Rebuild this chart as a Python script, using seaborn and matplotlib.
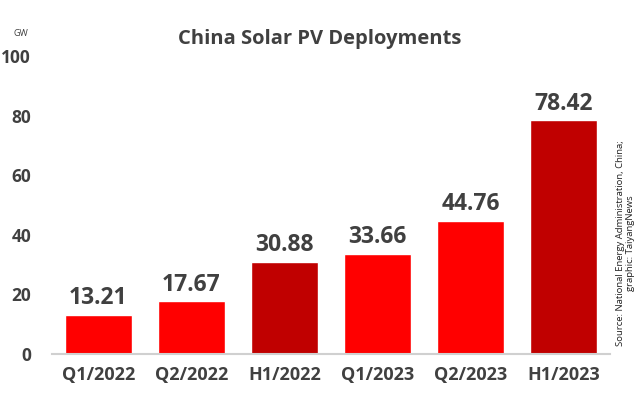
import matplotlib
matplotlib.use("Agg")
import matplotlib.pyplot as plt
import seaborn as sns
import pandas as pd

categories = ["Q1/2022", "Q2/2022", "H1/2022", "Q1/2023", "Q2/2023", "H1/2023"]
values = [13.21, 17.67, 30.88, 33.66, 44.76, 78.42]
kinds = ["Q", "Q", "H", "Q", "Q", "H"]
yticks = [0, 20, 40, 60, 80, 100]

sns.set_theme(style="white")
plt.rcParams["font.family"] = ["Open Sans", "DejaVu Sans"]

df = pd.DataFrame({"cat": categories, "val": values, "kind": kinds})
palette = {"Q": "#FF0000", "H": "#C00000"}
txt = "#404040"

fig = plt.figure(figsize=(6.4, 4.09), dpi=100)
ax = fig.add_axes([0.081, 0.1345, 0.872, 0.7285])
sns.barplot(data=df, x="cat", y="val", hue="kind", palette=palette, dodge=False,
            width=0.72, legend=False, ax=ax, saturation=1)

ax.set_ylim(0, 100)
ax.set_yticks(yticks)
ax.set_yticklabels([str(t) for t in yticks], fontsize=12.5, fontweight="bold", color=txt)
ax.set_xticks(range(len(categories)))
ax.set_xticklabels(categories, fontsize=13, fontweight="bold", color=txt)
ax.tick_params(axis="both", length=0)
ax.tick_params(axis="x", pad=9)
ax.tick_params(axis="y", pad=15)
ax.set_xlabel("")
ax.set_ylabel("")
for s in ["top", "right", "left"]:
    ax.spines[s].set_visible(False)
ax.spines["bottom"].set_color("#d0d0d0")
ax.spines["bottom"].set_linewidth(1.5)

for i, v in enumerate(values):
    ax.text(i, v + 1.6, f"{v:.2f}", ha="center", va="bottom", fontsize=16.5,
            fontweight="bold", color=txt)

fig.text(0.5, 0.905, "China Solar PV Deployments", ha="center", va="center",
         fontsize=14.5, fontweight="bold", color=txt)
fig.text(0.033, 0.918, "GW", ha="center", va="center", fontsize=6.5, color=txt)
fig.text(0.977, 0.405, "Source: National Energy Administration, China;\ngraphic: TaiyangNews",
         rotation=90, ha="center", va="center", fontsize=6.8, color="#202020",
         multialignment="center", linespacing=1.2)

fig.savefig("out.png", dpi=100)
